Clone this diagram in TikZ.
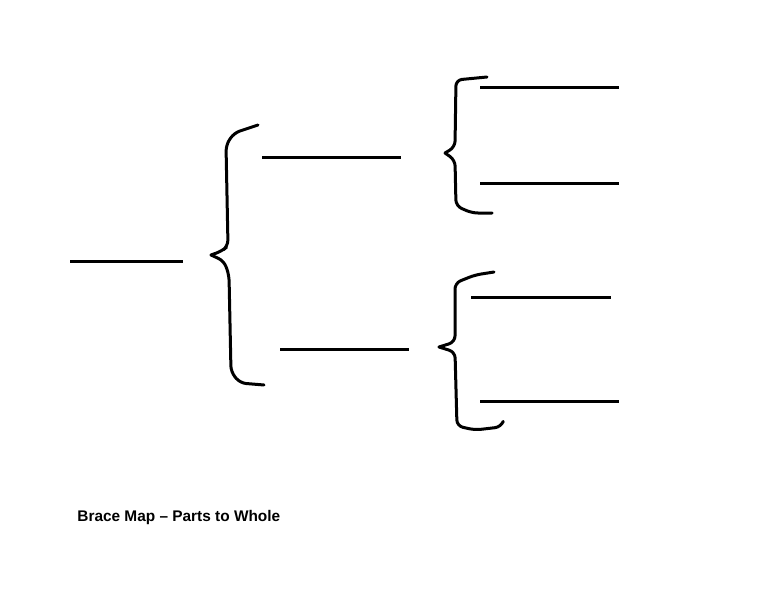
\documentclass[tikz,border=0pt]{standalone}
\usepackage{fontspec}
\setsansfont{Liberation Sans}
\begin{document}
\begin{tikzpicture}[x=0.5pt,y=-0.5pt]
\tikzstyle{blank}=[line width=1.5pt]
\tikzstyle{brace}=[line width=1.5pt, rounded corners=3pt, line cap=round, line join=round]
\useasboundingbox (0,0) rectangle (768,594);
% answer lines
\draw[blank] (70,261) coordinate (whole) -- (183,261);
\draw[blank] (262,157) coordinate (partA) -- (401,157);
\draw[blank] (280,349) coordinate (partB) -- (409,349);
\draw[blank] (480,87) coordinate (subA1) -- (619,87);
\draw[blank] (480,183) coordinate (subA2) -- (619,183);
\draw[blank] (471,297) coordinate (subB1) -- (611,297);
\draw[blank] (480,401) coordinate (subB2) -- (619,401);
% braces, drawn as two halves meeting at the tip
\coordinate (tip1) at (211,255);
\coordinate (tip2) at (445,153);
\coordinate (tip3) at (439,347);
\draw[brace] (258,125) -- (234,133) -- (226,145) -- (228,246) -- (222,251) -- (tip1);
\draw[brace] (tip1) -- (224,261) -- (229,275) -- (231,372) -- (240,383) -- (264,385);
\draw[brace] (487,77) -- (456,80) -- (455,147) -- (tip2);
\draw[brace] (tip2) -- (455,160) -- (456,206) -- (472,213) -- (492,213);
\draw[brace] (494,272) -- (475,275) -- (455,283) -- (455,342) -- (tip3);
\draw[brace] (tip3) -- (455,352) -- (457,426) -- (475,430) -- (501,427) -- (503,422);
% caption
\node[anchor=base west, inner sep=0pt, font=\sffamily\bfseries\fontsize{7.7}{9}\selectfont] (title)
  at (77,521) {Brace Map -- Parts to Whole};
\end{tikzpicture}
\end{document}
